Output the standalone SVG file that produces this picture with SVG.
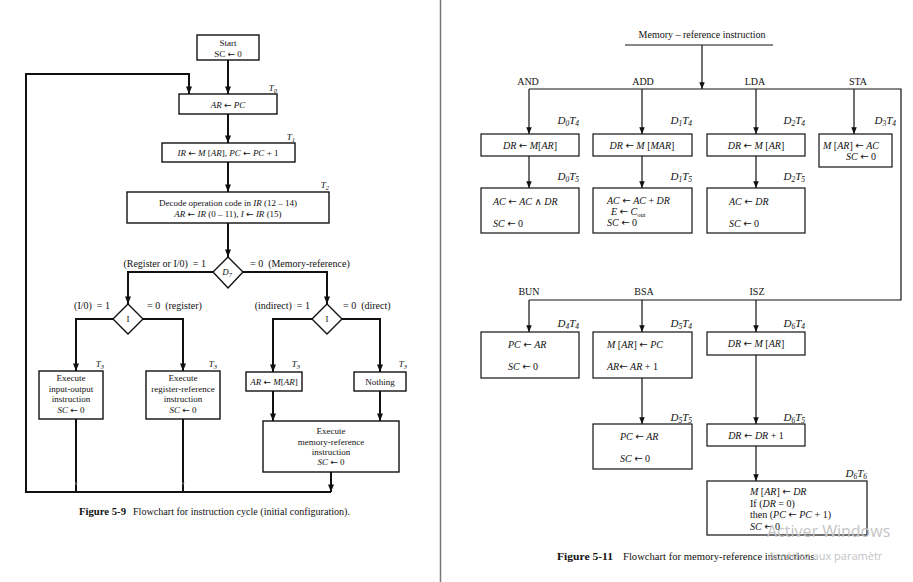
<svg xmlns="http://www.w3.org/2000/svg" width="913" height="582" viewBox="0 0 913 582">
<style>
.bg{fill:#fff}
.bl{fill:#fff;stroke:#111;stroke-width:1.4}
.br{fill:#fff;stroke:#111;stroke-width:1.2}
.cl{fill:none;stroke:#111;stroke-width:2}
.cr{fill:none;stroke:#111;stroke-width:1.2}
.t{font-family:"Liberation Serif","DejaVu Serif",serif;font-size:9px;fill:#111}
.r{font-size:10px}
.c{text-anchor:middle}
.e{text-anchor:end}
.i{font-style:italic}
.b{font-weight:bold}
.s{font-size:6.5px}
.dl{font-size:11px}
.ds{font-size:7.5px}
.a{font-family:"DejaVu Sans",sans-serif;font-style:normal}
.cap{font-family:"Liberation Serif","DejaVu Serif",serif;font-size:9.5px;fill:#111}
.wm{font-family:"Open Sans","Liberation Sans",sans-serif;fill:#c4c4c4}
</style>
<defs>
<marker id="al" viewBox="0 0 10 8" refX="10" refY="4" markerWidth="9" markerHeight="6" markerUnits="userSpaceOnUse" orient="auto"><path d="M0,0 L10,4 L0,8 z" fill="#111"/></marker>
<marker id="ar" viewBox="0 0 10 8" refX="10" refY="4" markerWidth="8.5" markerHeight="5.5" markerUnits="userSpaceOnUse" orient="auto"><path d="M0,0 L10,4 L0,8 z" fill="#111"/></marker>
<marker id="as" viewBox="0 0 10 8" refX="10" refY="4" markerWidth="4" markerHeight="3" markerUnits="userSpaceOnUse" orient="auto"><path d="M0,0 L10,4 L0,8 z" fill="#555"/></marker>
</defs>
<rect class="bg" x="0" y="0" width="913" height="582"/>
<line x1="440.5" y1="0" x2="440.5" y2="582" stroke="#777" stroke-width="1.5"/>

<!-- ===== Figure 5-9 connectors ===== -->
<g id="connectors-left">
<path class="cl" d="M228,60 V94" marker-end="url(#al)"/>
<path class="cl" d="M228,114 V143" marker-end="url(#al)"/>
<path class="cl" d="M228,162 V192" marker-end="url(#al)"/>
<path class="cl" d="M228,223 V257" marker-end="url(#al)"/>
<path class="cl" d="M213,272 H128 V304" marker-end="url(#al)"/>
<path class="cl" d="M243,272 H327 V304" marker-end="url(#al)"/>
<path class="cl" d="M113,319 H76 V371" marker-end="url(#al)"/>
<path class="cl" d="M143,319 H183 V371" marker-end="url(#al)"/>
<path class="cl" d="M312,319 H273 V372" marker-end="url(#al)"/>
<path class="cl" d="M342,319 H380 V372" marker-end="url(#al)"/>
<path class="cl" d="M273,391 V421" marker-end="url(#al)"/>
<path class="cl" d="M380,391 V421" marker-end="url(#al)"/>
<path class="cl" d="M331,472 V492" marker-end="url(#al)"/>
<path class="cl" d="M76,419 V486 V492" marker-mid="url(#as)"/>
<path class="cl" d="M183,419 V486 V492" marker-mid="url(#as)"/>
<path class="cl" d="M331,492 H26 V74 H189 V94" stroke-width="2.5" marker-end="url(#al)"/>
</g>

<!-- ===== Figure 5-9 nodes ===== -->
<g id="start">
<rect class="bl" x="197" y="35" width="62" height="25"/>
<text class="t c" x="228" y="46">Start</text>
<text class="t c" x="228" y="57">SC <tspan class="a">←</tspan> 0</text>
</g>
<g id="fetch-t0">
<rect class="bl" x="179" y="94" width="98" height="20"/>
<text class="t c" x="228" y="108"><tspan class="i">AR</tspan> <tspan class="a">←</tspan> <tspan class="i">PC</tspan></text>
<text class="t e i" x="277" y="91">T<tspan class="s" dy="2">0</tspan></text>
</g>
<g id="fetch-t1">
<rect class="bl" x="162" y="143" width="133" height="19"/>
<text class="t c" x="228" y="156"><tspan class="i">IR</tspan> <tspan class="a">←</tspan> <tspan class="i">M</tspan> [<tspan class="i">AR</tspan>], <tspan class="i">PC</tspan> <tspan class="a">←</tspan> <tspan class="i">PC</tspan> + 1</text>
<text class="t e i" x="295" y="140">T<tspan class="s" dy="2">1</tspan></text>
</g>
<g id="decode-t2">
<rect class="bl" x="127" y="192" width="202" height="31"/>
<text class="t c" x="228" y="206">Decode operation code in <tspan class="i">IR</tspan> (12 – 14)</text>
<text class="t c" x="228" y="217"><tspan class="i">AR</tspan> <tspan class="a">←</tspan> <tspan class="i">IR</tspan> (0 – 11), <tspan class="i">I</tspan> <tspan class="a">←</tspan> <tspan class="i">IR</tspan> (15)</text>
<text class="t e i" x="329" y="188">T<tspan class="s" dy="2">2</tspan></text>
</g>
<g id="d7">
<polygon class="bl" points="228,257 243,272 228,288 213,272"/>
<text class="t c i" x="227" y="275">D<tspan class="s" dy="2">7</tspan></text>
<text class="t r e" x="206" y="267" xml:space="preserve">(Register or I/0)  = 1</text>
<text class="t r" x="250" y="267" xml:space="preserve">= 0  (Memory-reference)</text>
</g>
<g id="i-left">
<polygon class="bl" points="128,304 143,319 128,334 113,319"/>
<text class="t c" x="128" y="322">I</text>
<text class="t r e" x="110" y="309" xml:space="preserve">(I/0)  = 1</text>
<text class="t r" x="147" y="309" xml:space="preserve">= 0  (register)</text>
</g>
<g id="i-right">
<polygon class="bl" points="327,304 342,319 327,334 312,319"/>
<text class="t c" x="327" y="322">I</text>
<text class="t r e" x="310" y="309" xml:space="preserve">(indirect)  = 1</text>
<text class="t r" x="343" y="309" xml:space="preserve">= 0  (direct)</text>
</g>
<g id="exec-io">
<rect class="bl" x="39" y="371" width="64" height="48"/>
<text class="t c" x="71" y="381">Execute</text>
<text class="t c" x="71" y="391.5">input-output</text>
<text class="t c" x="71" y="402">instruction</text>
<text class="t c" x="71" y="413"><tspan class="i">SC</tspan> <tspan class="a">←</tspan> 0</text>
<text class="t e i" x="104" y="367">T<tspan class="s" dy="2">3</tspan></text>
</g>
<g id="exec-reg">
<rect class="bl" x="146" y="371" width="74" height="48"/>
<text class="t c" x="183" y="381">Execute</text>
<text class="t c" x="183" y="391.5">register-reference</text>
<text class="t c" x="183" y="402">instruction</text>
<text class="t c" x="183" y="413"><tspan class="i">SC</tspan> <tspan class="a">←</tspan> 0</text>
<text class="t e i" x="217" y="367">T<tspan class="s" dy="2">3</tspan></text>
</g>
<g id="indirect">
<rect class="bl" x="246" y="372" width="56" height="19"/>
<text class="t c" x="274" y="385"><tspan class="i">AR</tspan> <tspan class="a">←</tspan> <tspan class="i">M</tspan>[<tspan class="i">AR</tspan>]</text>
<text class="t e i" x="300" y="367">T<tspan class="s" dy="2">3</tspan></text>
</g>
<g id="nothing">
<rect class="bl" x="354" y="372" width="52" height="19"/>
<text class="t c" x="380" y="385">Nothing</text>
<text class="t e i" x="407" y="367">T<tspan class="s" dy="2">3</tspan></text>
</g>
<g id="exec-mem">
<rect class="bl" x="263" y="421" width="136" height="51"/>
<text class="t c" x="331" y="434">Execute</text>
<text class="t c" x="331" y="444.5">memory-reference</text>
<text class="t c" x="331" y="454.5">instruction</text>
<text class="t c" x="331" y="465"><tspan class="i">SC</tspan> <tspan class="a">←</tspan> 0</text>
</g>
<g id="caption-left">
<text class="cap b" x="79" y="515" textLength="47" lengthAdjust="spacingAndGlyphs">Figure 5-9</text>
<text class="cap" x="133" y="515" textLength="217" lengthAdjust="spacingAndGlyphs">Flowchart for instruction cycle (initial configuration).</text>
</g>

<!-- ===== Figure 5-11 connectors ===== -->
<g id="connectors-right">
<line x1="625" y1="45" x2="773" y2="45" stroke="#111" stroke-width="1"/>
<path class="cr" d="M702,45 V89" marker-end="url(#ar)"/>
<path class="cr" d="M529,89 H901 V300 H529"/>
<path class="cr" d="M529,89 V134" marker-end="url(#ar)"/>
<path class="cr" d="M642,89 V134" marker-end="url(#ar)"/>
<path class="cr" d="M756,89 V134" marker-end="url(#ar)"/>
<path class="cr" d="M854,89 V134" marker-end="url(#ar)"/>
<path class="cr" d="M529,156 V188" marker-end="url(#ar)"/>
<path class="cr" d="M642,156 V188" marker-end="url(#ar)"/>
<path class="cr" d="M756,156 V188" marker-end="url(#ar)"/>
<path class="cr" d="M529,300 V332" marker-end="url(#ar)"/>
<path class="cr" d="M642,300 V332" marker-end="url(#ar)"/>
<path class="cr" d="M756,300 V332" marker-end="url(#ar)"/>
<path class="cr" d="M642,378 V424" marker-end="url(#ar)"/>
<path class="cr" d="M756,355 V424" marker-end="url(#ar)"/>
<path class="cr" d="M756,446 V481" marker-end="url(#ar)"/>
</g>

<!-- ===== Figure 5-11 labels ===== -->
<g id="title-right">
<text class="t r c" x="702" y="38">Memory – reference instruction</text>
</g>
<g id="op-labels">
<text class="t r c" x="528" y="85">AND</text>
<text class="t r c" x="643" y="85">ADD</text>
<text class="t r c" x="755" y="85">LDA</text>
<text class="t r c" x="858" y="85">STA</text>
<text class="t r c" x="529" y="295">BUN</text>
<text class="t r c" x="644" y="295">BSA</text>
<text class="t r c" x="757" y="295">ISZ</text>
</g>

<!-- ===== Figure 5-11 nodes ===== -->
<g id="and-t4">
<rect class="br" x="481" y="134" width="98" height="22"/>
<text class="t r c" x="530" y="149"><tspan class="i">DR</tspan> <tspan class="a">←</tspan> <tspan class="i">M</tspan>[<tspan class="i">AR</tspan>]</text>
<text class="t dl e i" x="579" y="124">D<tspan class="ds" dy="2">0</tspan><tspan dy="-2">T</tspan><tspan class="ds" dy="2">4</tspan></text>
</g>
<g id="add-t4">
<rect class="br" x="593" y="134" width="99" height="22"/>
<text class="t r c" x="642" y="149"><tspan class="i">DR</tspan> <tspan class="a">←</tspan> <tspan class="i">M</tspan> [<tspan class="i">MAR</tspan>]</text>
<text class="t dl e i" x="692" y="124">D<tspan class="ds" dy="2">1</tspan><tspan dy="-2">T</tspan><tspan class="ds" dy="2">4</tspan></text>
</g>
<g id="lda-t4">
<rect class="br" x="707" y="134" width="98" height="22"/>
<text class="t r c" x="756" y="149"><tspan class="i">DR</tspan> <tspan class="a">←</tspan> <tspan class="i">M</tspan> [<tspan class="i">AR</tspan>]</text>
<text class="t dl e i" x="805" y="124">D<tspan class="ds" dy="2">2</tspan><tspan dy="-2">T</tspan><tspan class="ds" dy="2">4</tspan></text>
</g>
<g id="sta-t4">
<rect class="br" x="819" y="134" width="73" height="33"/>
<text class="t r" x="823" y="149"><tspan class="i">M</tspan> [<tspan class="i">AR</tspan>] <tspan class="a">←</tspan> <tspan class="i">AC</tspan></text>
<text class="t r" x="846" y="160"><tspan class="i">SC</tspan> <tspan class="a">←</tspan> 0</text>
<text class="t dl e i" x="896" y="124">D<tspan class="ds" dy="2">3</tspan><tspan dy="-2">T</tspan><tspan class="ds" dy="2">4</tspan></text>
</g>
<g id="and-t5">
<rect class="br" x="481" y="188" width="98" height="45"/>
<text class="t r" x="493" y="205"><tspan class="i">AC</tspan> <tspan class="a">←</tspan> <tspan class="i">AC</tspan> ∧ <tspan class="i">DR</tspan></text>
<text class="t r" x="493" y="227"><tspan class="i">SC</tspan> <tspan class="a">←</tspan> 0</text>
<text class="t dl e i" x="579" y="180">D<tspan class="ds" dy="2">0</tspan><tspan dy="-2">T</tspan><tspan class="ds" dy="2">5</tspan></text>
</g>
<g id="add-t5">
<rect class="br" x="593" y="188" width="99" height="45"/>
<text class="t r" x="607" y="204"><tspan class="i">AC</tspan> <tspan class="a">←</tspan> <tspan class="i">AC</tspan> + <tspan class="i">DR</tspan></text>
<text class="t r" x="611" y="214.5"><tspan class="i">E</tspan> <tspan class="a">←</tspan> <tspan class="i">C</tspan><tspan class="s" dy="2">out</tspan></text>
<text class="t r" x="607" y="225.5"><tspan class="i">SC</tspan> <tspan class="a">←</tspan> 0</text>
<text class="t dl e i" x="692" y="180">D<tspan class="ds" dy="2">1</tspan><tspan dy="-2">T</tspan><tspan class="ds" dy="2">5</tspan></text>
</g>
<g id="lda-t5">
<rect class="br" x="707" y="188" width="98" height="45"/>
<text class="t r" x="729" y="205"><tspan class="i">AC</tspan> <tspan class="a">←</tspan> <tspan class="i">DR</tspan></text>
<text class="t r" x="729" y="227"><tspan class="i">SC</tspan> <tspan class="a">←</tspan> 0</text>
<text class="t dl e i" x="805" y="180">D<tspan class="ds" dy="2">2</tspan><tspan dy="-2">T</tspan><tspan class="ds" dy="2">5</tspan></text>
</g>
<g id="bun-t4">
<rect class="br" x="481" y="332" width="98" height="46"/>
<text class="t r" x="508" y="348"><tspan class="i">PC</tspan> <tspan class="a">←</tspan> <tspan class="i">AR</tspan></text>
<text class="t r" x="508" y="370"><tspan class="i">SC</tspan> <tspan class="a">←</tspan> 0</text>
<text class="t dl e i" x="579" y="327">D<tspan class="ds" dy="2">4</tspan><tspan dy="-2">T</tspan><tspan class="ds" dy="2">4</tspan></text>
</g>
<g id="bsa-t4">
<rect class="br" x="593" y="332" width="99" height="46"/>
<text class="t r" x="607" y="348"><tspan class="i">M</tspan> [<tspan class="i">AR</tspan>] <tspan class="a">←</tspan> <tspan class="i">PC</tspan></text>
<text class="t r" x="607" y="370"><tspan class="i">AR</tspan><tspan class="a">←</tspan> <tspan class="i">AR</tspan> + 1</text>
<text class="t dl e i" x="692" y="327">D<tspan class="ds" dy="2">5</tspan><tspan dy="-2">T</tspan><tspan class="ds" dy="2">4</tspan></text>
</g>
<g id="isz-t4">
<rect class="br" x="707" y="332" width="98" height="23"/>
<text class="t r c" x="756" y="347"><tspan class="i">DR</tspan> <tspan class="a">←</tspan> <tspan class="i">M</tspan> [<tspan class="i">AR</tspan>]</text>
<text class="t dl e i" x="805" y="327">D<tspan class="ds" dy="2">6</tspan><tspan dy="-2">T</tspan><tspan class="ds" dy="2">4</tspan></text>
</g>
<g id="bsa-t5">
<rect class="br" x="593" y="424" width="99" height="45"/>
<text class="t r" x="620" y="440"><tspan class="i">PC</tspan> <tspan class="a">←</tspan> <tspan class="i">AR</tspan></text>
<text class="t r" x="620" y="462"><tspan class="i">SC</tspan> <tspan class="a">←</tspan> 0</text>
<text class="t dl e i" x="692" y="421">D<tspan class="ds" dy="2">5</tspan><tspan dy="-2">T</tspan><tspan class="ds" dy="2">5</tspan></text>
</g>
<g id="isz-t5">
<rect class="br" x="707" y="424" width="98" height="22"/>
<text class="t r c" x="756" y="439"><tspan class="i">DR</tspan> <tspan class="a">←</tspan> <tspan class="i">DR</tspan> + 1</text>
<text class="t dl e i" x="805" y="421">D<tspan class="ds" dy="2">6</tspan><tspan dy="-2">T</tspan><tspan class="ds" dy="2">5</tspan></text>
</g>
<g id="isz-t6">
<rect class="br" x="707" y="481" width="160" height="54"/>
<text class="t r" x="750" y="495"><tspan class="i">M</tspan> [<tspan class="i">AR</tspan>] <tspan class="a">←</tspan> <tspan class="i">DR</tspan></text>
<text class="t r" x="750" y="506.5">If (<tspan class="i">DR</tspan> = 0)</text>
<text class="t r" x="750" y="518">then (<tspan class="i">PC</tspan> <tspan class="a">←</tspan> <tspan class="i">PC</tspan> + 1)</text>
<text class="t r" x="750" y="529.5"><tspan class="i">SC</tspan> <tspan class="a">←</tspan> 0</text>
<text class="t dl e i" x="867" y="477">D<tspan class="ds" dy="2">6</tspan><tspan dy="-2">T</tspan><tspan class="ds" dy="2">6</tspan></text>
</g>
<g id="caption-right">
<text class="cap b" x="557" y="560" textLength="56" lengthAdjust="spacingAndGlyphs">Figure 5-11</text>
<text class="cap" x="623" y="560" textLength="194" lengthAdjust="spacingAndGlyphs">Flowchart for memory-reference instructions.</text>
</g>
<g id="watermark">
<text class="wm" x="767" y="537" font-size="16">Activer Windows</text>
<text class="wm" x="768" y="560" font-size="11">Accédez aux paramètr</text>
</g>
</svg>
